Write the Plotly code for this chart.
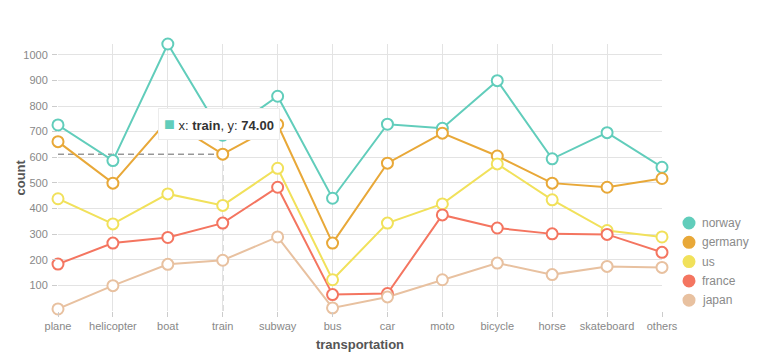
import plotly.graph_objects as go

categories = ["plane", "helicopter", "boat", "train", "subway", "bus", "car",
              "moto", "bicycle", "horse", "skateboard", "others"]

# stacked (cumulative) counts as drawn on the chart
norway = [726, 587, 1042, 686, 838, 440, 729, 713, 899, 594, 696, 561]
germany = [661, 499, 745, 612, 728, 265, 577, 694, 605, 499, 483, 517]
us = [438, 340, 457, 412, 557, 122, 343, 418, 574, 434, 314, 289]
france = [183, 265, 287, 343, 483, 64, 68, 375, 324, 301, 299, 229]
japan = [8, 99, 182, 198, 289, 12, 55, 122, 187, 142, 174, 170]

series_names = ["norway", "germany", "us", "france", "japan"]
series_values = [norway, germany, us, france, japan]
colors = ["#61cdbb", "#e8a838", "#f1e15b", "#f47560", "#e8c1a0"]

y_ticks = [100, 200, 300, 400, 500, 600, 700, 800, 900, 1000]

tooltip_category = "train"
tooltip_series = "germany"
tooltip_value_text = "74.00"

FONT = "Liberation Sans, Arial, sans-serif"

W, H = 764, 360
ML, MR, MT, MB = 58, 102, 44, 49
PW, PH = W - ML - MR, H - MT - MB

fig = go.Figure()

# lines layer
for name, vals, col in zip(series_names, series_values, colors):
    fig.add_trace(go.Scatter(
        x=categories, y=vals, mode="lines", name=name,
        line=dict(color=col, width=2), cliponaxis=False, showlegend=False,
        hoverinfo="skip",
    ))
# points layer
for name, vals, col in zip(series_names, series_values, colors):
    fig.add_trace(go.Scatter(
        x=categories, y=vals, mode="markers", name=name,
        marker=dict(size=11, color="white", line=dict(color=col, width=2)),
        cliponaxis=False, showlegend=False,
    ))

# crosshair at hovered point
ti = categories.index(tooltip_category)
ty = series_values[series_names.index(tooltip_series)][ti]
fig.add_shape(type="line", xref="x", yref="y", x0=0, x1=ti, y0=ty, y1=ty,
              line=dict(color="#666666", width=1, dash="6px,4px"), layer="below")
fig.add_shape(type="line", xref="x", yref="y", x0=ti, x1=ti, y0=0, y1=ty,
              line=dict(color="#666666", width=1, dash="6px,4px"), layer="below")

fig.add_annotation(
    x=ti, y=ty, xref="x", yref="y", showarrow=False,
    xanchor="center", yanchor="bottom", xshift=-4, yshift=14,
    text=(f'<span style="color:{colors[0]};font-size:18px">■</span> x: <b>{tooltip_category}</b>, '
          f'y: <b>{tooltip_value_text}</b>'),
    font=dict(family=FONT, size=13, color="#333333"),
    bgcolor="white", bordercolor="#ececec", borderwidth=1, borderpad=5,
)

# manual legend (pixel positions in the page)
leg_x_circle = 689
leg_x_text = 700
leg_y0 = 223
leg_dy = 19.3
for i, (name, col) in enumerate(zip(series_names, colors)):
    py = leg_y0 + i * leg_dy
    xp = (leg_x_circle - ML) / PW
    yp = (H - MB - py) / PH
    fig.add_shape(type="circle", xref="paper", yref="paper",
                  xsizemode="pixel", ysizemode="pixel", xanchor=xp, yanchor=yp,
                  x0=-6.5, x1=6.5, y0=-6.5, y1=6.5,
                  fillcolor=col, line=dict(width=0))
    fig.add_annotation(x=(leg_x_text - ML) / PW, y=yp, xref="paper", yref="paper",
                       text=name, showarrow=False, xanchor="left", yanchor="middle",
                       font=dict(family=FONT, size=12, color="#8a8a8a"))

# y axis title
fig.add_annotation(x=(20 - ML) / PW, y=0.5, xref="paper", yref="paper",
                   text="<b>count</b>", textangle=-90, showarrow=False,
                   xanchor="center", yanchor="middle",
                   font=dict(family=FONT, size=13, color="#555555"))

fig.update_layout(
    width=W, height=H,
    margin=dict(l=ML, r=MR, t=MT, b=MB, autoexpand=False),
    paper_bgcolor="white", plot_bgcolor="white",
    font=dict(family=FONT, size=11, color="#777777"),
    showlegend=False,
    xaxis=dict(
        type="category", categoryorder="array", categoryarray=categories,
        range=[0, len(categories) - 1], showgrid=True, gridcolor="#e3e3e3",
        gridwidth=1, zeroline=False, showline=False, automargin=False,
        ticks="outside", ticklen=5, tickcolor="#cccccc",
        tickfont=dict(family=FONT, size=11, color="#888888"),
        title=dict(text="<b>transportation</b>", standoff=8,
                   font=dict(family=FONT, size=13, color="#555555")),
    ),
    yaxis=dict(
        range=[0, max(norway)], tickvals=y_ticks, showgrid=True,
        gridcolor="#e3e3e3", gridwidth=1, zeroline=False, showline=False,
        automargin=False,
        ticks="outside", ticklen=5, tickcolor="#cccccc", ticklabelstandoff=2,
        tickfont=dict(family=FONT, size=11, color="#888888"),
    ),
)

fig.write_html("out.html", config={"displayModeBar": False},
               post_script="document.body.style.margin='0';")
